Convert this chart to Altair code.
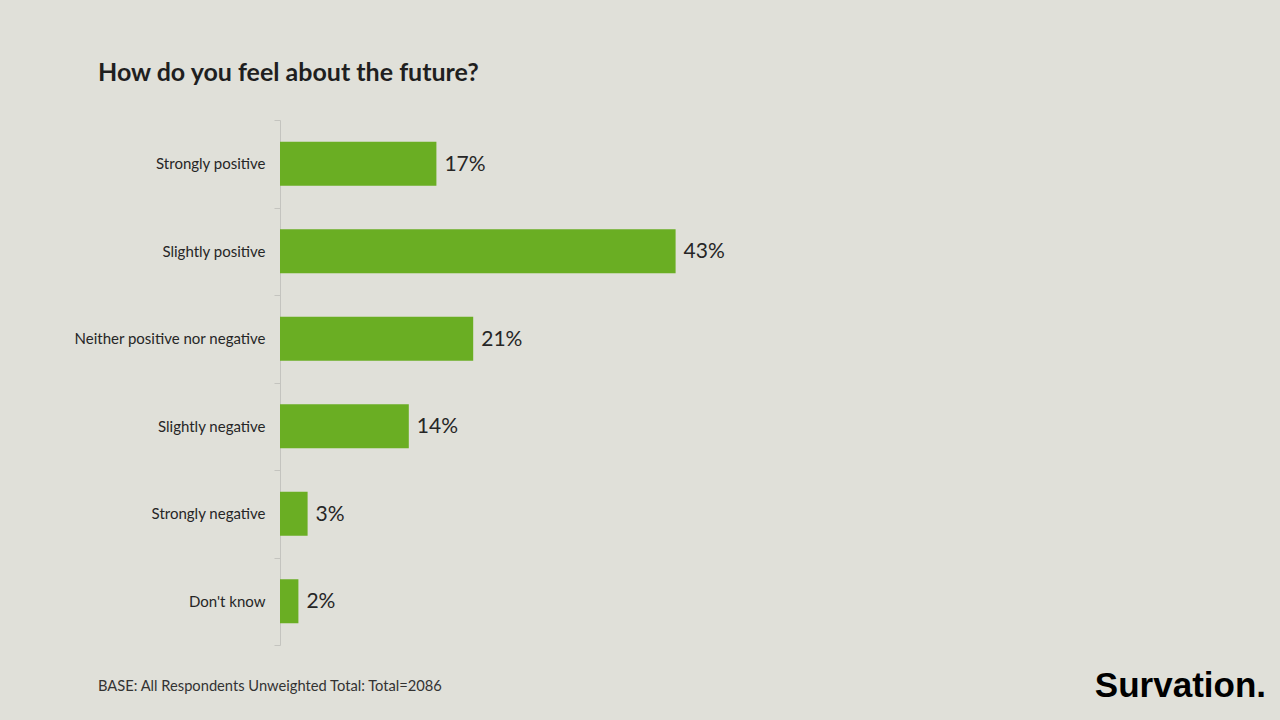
import altair as alt
import pandas as pd

categories = ["Strongly positive", "Slightly positive", "Neither positive nor negative",
              "Slightly negative", "Strongly negative", "Don't know"]
values = [17, 43, 21, 14, 3, 2]
value_labels = ["17%", "43%", "21%", "14%", "3%", "2%"]

title_text = "How do you feel about the future?"
base_text = "BASE: All Respondents Unweighted Total: Total=2086"
logo_text = "Survation."

df = pd.DataFrame({"category": categories, "value": values, "label": value_labels})

BG = "#e0e0d9"
GREEN = "#6aae23"
FONT = "Lato"

y_enc = alt.Y("category:N", sort=categories, title=None,
              scale=alt.Scale(paddingInner=0, paddingOuter=0),
              axis=alt.Axis(domainColor="#c4c4bf", tickColor="#c4c4bf", tickSize=6,
                            tickBand="extent", labelFont=FONT, labelFontSize=15,
                            labelColor="#262626", labelPadding=9, labelLimit=400,
                            domainWidth=1))
x_enc = alt.X("value:Q", scale=alt.Scale(domain=[0, 100]), axis=None)

bars = alt.Chart(df).mark_bar(color=GREEN, size=44).encode(x=x_enc, y=y_enc)
labels = alt.Chart(df).mark_text(align="left", baseline="middle", dx=8, dy=1, font=FONT,
                                 fontSize=21, color="#262626").encode(
    x=x_enc, y=alt.Y("category:N", sort=categories), text="label:N")

title = alt.Chart(pd.DataFrame({"t": [title_text]})).mark_text(
    align="left", baseline="alphabetic", font=FONT, fontSize=25, fontWeight="bold",
    color="#1f1f1f").encode(x=alt.value(-182), y=alt.value(-39), text="t:N")
base = alt.Chart(pd.DataFrame({"t": [base_text]})).mark_text(
    align="left", baseline="alphabetic", font=FONT, fontSize=14.7,
    color="#333333").encode(x=alt.value(-182), y=alt.value(571), text="t:N")
logo = alt.Chart(pd.DataFrame({"t": [logo_text]})).mark_text(
    align="right", baseline="alphabetic", font="Liberation Sans", fontSize=35,
    fontWeight="bold", color="#000000").encode(x=alt.value(986), y=alt.value(577), text="t:N")

chart = alt.layer(bars, labels, title, base, logo).properties(
    width=920, height=525,
    background=BG,
    padding={"left": 280, "top": 120, "right": 80, "bottom": 75},
    autosize=alt.AutoSizeParams(type="none"),
).configure_view(stroke=None)

chart.save("out.html", embed_options={"renderer": "svg", "actions": False})
